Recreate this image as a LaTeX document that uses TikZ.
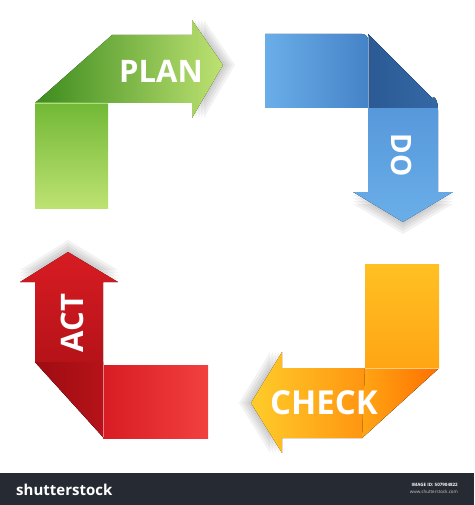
\documentclass[tikz,border=0pt]{standalone}
\usepackage{fontspec}
\setmainfont{Open Sans}
\usetikzlibrary{fadings}
\definecolor{gdark}{HTML}{3C8B1D}
\definecolor{gmid}{HTML}{72B836}
\definecolor{glight}{HTML}{BDE272}
\definecolor{bdark}{HTML}{2B5A94}
\definecolor{bmid}{HTML}{4A8AD0}
\definecolor{blight}{HTML}{6AAEE9}
\definecolor{rdark}{HTML}{9E0C12}
\definecolor{rmid}{HTML}{D81C23}
\definecolor{rlight}{HTML}{F2403F}
\definecolor{oyel}{HTML}{FFCC2A}
\definecolor{omid}{HTML}{FFA514}
\definecolor{odark}{HTML}{FF7000}
\definecolor{barcol}{HTML}{262A33}
\tikzset{
  lbl/.style={text=white, font=\fontsize{31}{32}\selectfont\bfseries, inner sep=0pt},
  seam/.style={white, opacity=0.45, line width=0.8pt},
  shadowlayer/.style={fill=black, opacity=0.05}
}
\begin{document}
\begin{tikzpicture}[x=1pt,y=-1pt]
\useasboundingbox (0,0) rectangle (474,505);
% ---------- soft shadows ----------
\foreach \d in {3,6,9,12}{
  \fill[shadowlayer] (192+\d,20) -- (223+\d,65) -- (192+\d,118) -- cycle;
  \fill[shadowlayer] (353,192+\d) -- (453,192+\d) -- (403,222+\d) -- cycle;
  \fill[shadowlayer] (20,282-\d) -- (68,252-\d) -- (118,282-\d) -- cycle;
  \fill[shadowlayer] (282-\d,352) -- (251-\d,403) -- (282-\d,453) -- cycle;
}
% ---------- GREEN (PLAN) ----------
\fill[left color=gdark, right color=glight]
  (35,103) -- (112,35) -- (192,35) -- (192,20) -- (223,65) -- (192,118) -- (192,103) -- cycle;
\fill[top color=gmid, bottom color=glight]
  (35,103) rectangle (108,208);
\draw[seam] (35,103) -- (108,103);
% ---------- BLUE (DO) ----------
\fill[top color=bmid, bottom color=blight]
  (368,34) -- (432,98) to[out=45,in=90] (438,110) -- (438,192) -- (453,192) -- (403,222) -- (353,192) -- (368,192) -- cycle;
\fill[left color=bdark, right color=bdark!70!bmid]
  (368,34) -- (432,98) to[out=45,in=90] (438,108) -- (368,108) -- cycle;
\fill[left color=blight, right color=bmid!85!bdark]
  (265,34) -- (362,34) to[out=0,in=90] (368,40) -- (368,108) -- (265,108) -- cycle;
\draw[seam] (368,36) -- (368,108);
% ---------- RED (ACT) ----------
\fill[top color=rmid, bottom color=rdark]
  (35,282) -- (20,282) -- (68,252) -- (118,282) -- (103,282) -- (103,437) -- (35,362) -- cycle;
\fill[left color=rdark, right color=rdark!60!rmid]
  (35,362) -- (103,362) -- (103,437) -- cycle;
\fill[left color=rmid, right color=rlight]
  (103,365) rectangle (208,438);
\draw[seam] (103,365) -- (103,437);
% ---------- ORANGE (CHECK) ----------
\fill[left color=oyel, right color=odark]
  (439,368) -- (362,438) -- (282,438) -- (282,453) -- (251,403) -- (282,352) -- (282,368) -- cycle;
\fill[left color=omid, right color=odark]
  (365,368) -- (439,368) -- (362,438) -- cycle;
\fill[top color=oyel!70!omid, bottom color=omid]
  (365,264) rectangle (439,368);
\draw[seam] (365,368) -- (439,368);
% ---------- labels ----------
\node[lbl] (plan) at (161,71) {PLAN};
\node[lbl, font=\fontsize{28}{29}\selectfont\bfseries, rotate=-90] (do) at (402,155) {DO};
\node[lbl, font=\fontsize{33}{34}\selectfont\bfseries] (check) at (324,403) {CHECK};
\node[lbl, rotate=90] (act) at (72,323) {ACT};
% ---------- bottom bar ----------
\fill[barcol] (0,473) rectangle (474,505);
\node[anchor=west, text=white, inner sep=0pt, font=\fontsize{15}{16}\selectfont\bfseries] (brand) at (16,490) {shutterstock};
\node[anchor=east, text=white, inner sep=0pt, font=\fontsize{4.5}{5}\selectfont\bfseries] (imgid) at (458,485) {IMAGE ID: 507904822};
\node[anchor=east, text=white!75!barcol, inner sep=0pt, font=\fontsize{4.5}{5}\selectfont] (site) at (458,492) {www.shutterstock.com};
\end{tikzpicture}
\end{document}
